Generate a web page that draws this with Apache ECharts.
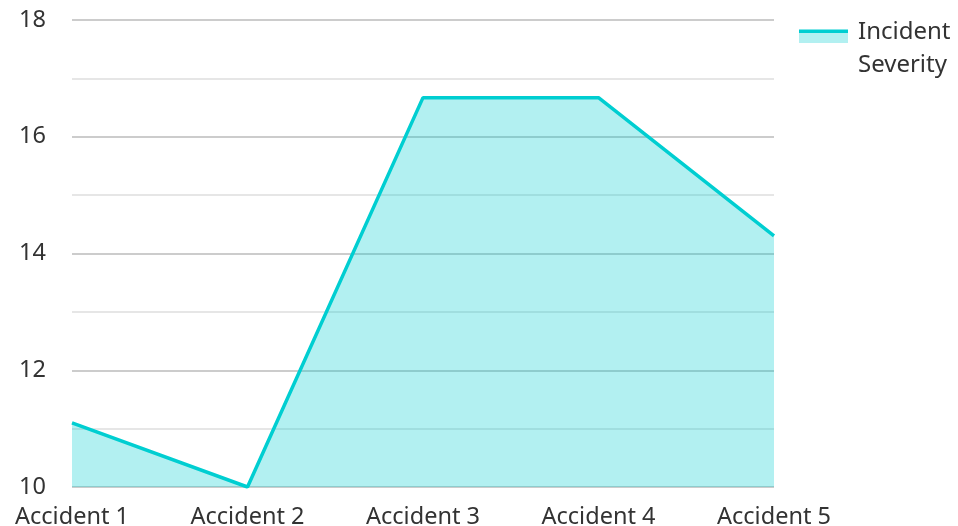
<!DOCTYPE html>
<html><head><meta charset="utf-8">
<script src="https://cdn.jsdelivr.net/npm/echarts@6/dist/echarts.min.js"></script>
<style>html,body{margin:0;padding:0;background:#fff}#c{width:958px;height:526px}</style>
</head><body><div id="c"></div>
<script>
var categories = ['Accident 1', 'Accident 2', 'Accident 3', 'Accident 4', 'Accident 5'];
var severity = [11.1, 10.0, 16.67, 16.67, 14.3];
var seriesName = 'Incident Severity';
var yTicks = [10, 12, 14, 16, 18];

var chart = echarts.init(document.getElementById('c'));
var font = '"Noto Sans", sans-serif';
chart.setOption({
  animation: false,
  grid: {left: 72, right: 184, top: 20, bottom: 39, containLabel: false, outerBoundsMode: 'none'},
  legend: {
    left: 799, top: 11, orient: 'vertical',
    icon: 'rect', itemWidth: 49, itemHeight: 11, itemGap: 10,
    itemStyle: {color: 'rgba(0,0,0,0)'},
    textStyle: {fontFamily: font, fontSize: 24, color: '#333', width: 100, overflow: 'break', lineHeight: 33},
    data: [seriesName]
  },
  graphic: [
    {type: 'rect', shape: {x: 799, y: 33, width: 49, height: 10}, style: {fill: 'rgba(0,206,209,0.3)'}},
    {type: 'rect', shape: {x: 799, y: 29.5, width: 49, height: 3.5}, style: {fill: '#00CED1'}}
  ],
  xAxis: {
    type: 'category', data: categories, boundaryGap: false,
    axisLine: {show: false}, axisTick: {show: false},
    axisLabel: {fontFamily: font, fontSize: 23.5, color: '#333', margin: 18}
  },
  yAxis: {
    type: 'value', min: yTicks[0], max: yTicks[yTicks.length - 1], interval: 2,
    axisLine: {show: false}, axisTick: {show: false},
    axisLabel: {fontFamily: font, fontSize: 23.5, color: '#333', margin: 26},
    splitLine: {lineStyle: {color: '#cccccc', width: 2}},
    minorTick: {show: false, splitNumber: 2},
    minorSplitLine: {show: true, lineStyle: {color: '#e6e6e6', width: 2}}
  },
  series: [{
    name: seriesName, type: 'line', data: severity, symbol: 'none',
    lineStyle: {color: '#00CED1', width: 3.5},
    itemStyle: {color: '#00CED1'},
    areaStyle: {color: 'rgba(0,206,209,0.3)', opacity: 1, origin: 'start'},
    z: 3
  }]
});
</script></body></html>
